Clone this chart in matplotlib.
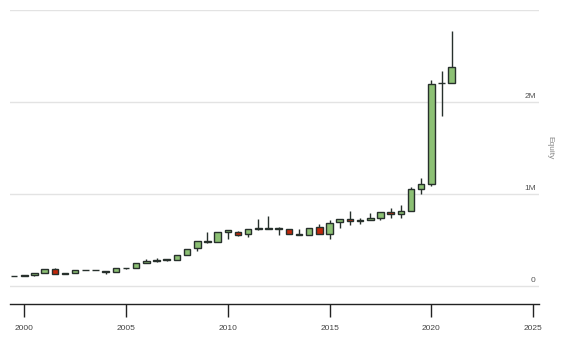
import numpy as np
import matplotlib.pyplot as plt
from matplotlib.transforms import blended_transform_factory

plt.rcParams['font.family'] = ['Liberation Sans', 'DejaVu Sans']

# half-year candles of equity, values in millions
dates = np.arange(1999.5, 2021.01, 0.5)
opens = [0.110, 0.113, 0.120, 0.141, 0.185, 0.134, 0.141, 0.168, 0.168, 0.152,
         0.152, 0.193, 0.196, 0.250, 0.272, 0.282, 0.283, 0.337, 0.413, 0.480,
         0.478, 0.587, 0.587, 0.565, 0.622, 0.622, 0.620, 0.620, 0.558, 0.554,
         0.641, 0.565, 0.696, 0.728, 0.710, 0.717, 0.739, 0.804, 0.783, 0.815,
         1.054, 1.112, 2.204, 2.207]
closes = [0.112, 0.117, 0.140, 0.185, 0.130, 0.139, 0.170, 0.172, 0.172, 0.166,
          0.196, 0.198, 0.250, 0.275, 0.280, 0.288, 0.337, 0.402, 0.489, 0.490,
          0.587, 0.609, 0.554, 0.620, 0.630, 0.630, 0.626, 0.565, 0.565, 0.630,
          0.565, 0.685, 0.728, 0.707, 0.716, 0.739, 0.804, 0.783, 0.815, 1.054,
          1.112, 2.196, 2.210, 2.380]
highs = [0.113, 0.118, 0.140, 0.185, 0.199, 0.139, 0.170, 0.172, 0.172, 0.166,
         0.196, 0.198, 0.250, 0.297, 0.300, 0.297, 0.337, 0.402, 0.489, 0.587,
         0.587, 0.609, 0.598, 0.620, 0.724, 0.764, 0.645, 0.620, 0.623, 0.630,
         0.677, 0.720, 0.728, 0.815, 0.739, 0.797, 0.804, 0.848, 0.880, 1.076,
         1.174, 2.242, 2.340, 2.775]
lows = [0.109, 0.112, 0.109, 0.141, 0.130, 0.134, 0.141, 0.168, 0.168, 0.126,
        0.152, 0.180, 0.196, 0.250, 0.257, 0.272, 0.283, 0.337, 0.376, 0.467,
        0.478, 0.507, 0.543, 0.533, 0.609, 0.620, 0.550, 0.565, 0.556, 0.554,
        0.565, 0.507, 0.626, 0.659, 0.674, 0.717, 0.717, 0.739, 0.739, 0.815,
        1.000, 1.083, 1.854, 2.207]

year_ticks = [2000, 2005, 2010, 2015, 2020, 2025]
equity_ticks = [0, 1, 2, 3]
equity_labels = ['0', '1M', '2M', '']

UP = '#8cc074'
DOWN = '#c1270a'
EDGE = '#27302c'

fig = plt.figure(figsize=(5.68, 3.42), dpi=100)
ax = fig.add_axes([10 / 568, 1 - 304.3 / 342, 529 / 568, 294 / 342])

o = np.array(opens)
c = np.array(closes)
colors = [UP if cc >= oo else DOWN for oo, cc in zip(o, c)]

ax.vlines(dates, lows, highs, color=EDGE, linewidth=1, zorder=2)
ax.bar(dates, np.abs(c - o), bottom=np.minimum(o, c), width=0.32,
       color=colors, edgecolor=EDGE, linewidth=1, zorder=3)

ax.set_xlim(1999.30, 2025.29)
ax.set_ylim(-0.2, 3.0)

for v in equity_ticks:
    ax.axhline(v, color='#e3e3e3', linewidth=1, zorder=0)

tr = blended_transform_factory(ax.transAxes, ax.transData)
for v, lab in zip(equity_ticks, equity_labels):
    ax.text(0.994, v + 0.025, lab, transform=tr, ha='right', va='bottom',
            fontsize=6, color='#555555')

ax.set_yticks([])
ax.set_xticks(year_ticks)
ax.set_xticklabels([str(y) for y in year_ticks], fontsize=6, color='#444444')
ax.tick_params(axis='x', length=9, width=1, color='#222222', pad=6)

for s in ['top', 'left', 'right']:
    ax.spines[s].set_visible(False)
ax.spines['bottom'].set_color('#222222')
ax.spines['bottom'].set_linewidth(1)

fig.text(550 / 568, 1 - 148 / 342, 'Equity', rotation=270, ha='center',
         va='center', fontsize=6, color='#888888')

fig.savefig('out.png', dpi=100)
